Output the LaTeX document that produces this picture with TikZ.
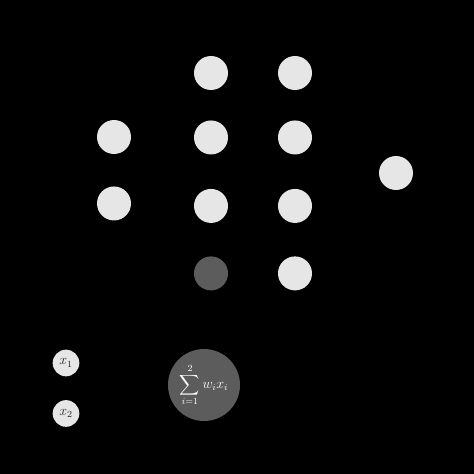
\documentclass[tikz,border=0pt]{standalone}
\usepackage{amsmath}
\usepackage{amssymb}
\usetikzlibrary{shapes,arrows}
\usetikzlibrary{positioning}
\definecolor{nodelight}{HTML}{E6E6E6}
\definecolor{nodedark}{HTML}{5C5C5C}
\tikzstyle{neuron} = [circle, fill=nodelight, minimum size=1.02cm, inner sep=0pt]
\tikzstyle{bias} = [neuron, fill=nodedark]
\tikzstyle{inp} = [circle, fill=nodelight, minimum size=0.8cm, inner sep=0pt, text=black!85, font=\large]
\tikzstyle{summ} = [circle, fill=nodedark, minimum size=2.16cm, inner sep=0pt, text=white, font=\large]

\begin{document}
\begin{tikzpicture}
   % Background
   \fill[black] (0,0) rectangle (14.22,14.22);
   \useasboundingbox (0,0) rectangle (14.22,14.22);
   % Place nodes
   \node [neuron] (a1) at (3.42,10.11) {};
   \node [neuron, below = 0.96cm of a1] (a2) {};
   \node [neuron] (b1) at (6.33,12.03) {};
   \node [neuron, below = 0.9cm of b1] (b2) {};
   \node [neuron, below = 1.02cm of b2] (b3) {};
   \node [bias, below = 0.99cm of b3] (b4) {};
   \node [neuron] (c1) at (8.85,12.03) {};
   \node [neuron, below = 0.9cm of c1] (c2) {};
   \node [neuron, below = 1.02cm of c2] (c3) {};
   \node [neuron, below = 0.99cm of c3] (c4) {};
   \node [neuron] (out) at (11.88,9.03) {};
   % Inputs and sum
   \node [inp] (x1) at (1.98,3.33) {$x_1$};
   \node [inp, below = 0.7cm of x1] (x2) {$x_2$};
   \node [summ] (sum) at (6.12,2.67) {$\displaystyle\sum_{i=1}^{2} w_i x_i$};
\end{tikzpicture}
\end{document}
